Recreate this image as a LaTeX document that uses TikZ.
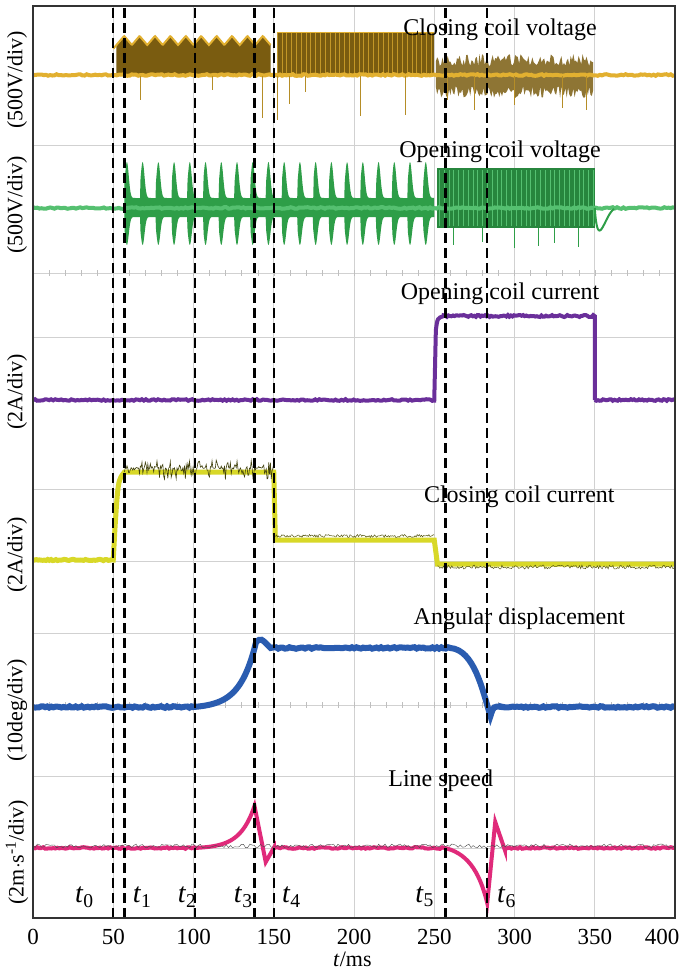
\documentclass[tikz,border=0pt]{standalone}
\usepackage{fontspec}
\setmainfont{Liberation Serif}
\begin{document}
\begin{tikzpicture}[x=1pt,y=-1pt,
  lbl/.style={font=\fontsize{24}{26}\selectfont,inner sep=0pt},
  ylbl/.style={font=\fontsize{22}{24}\selectfont,inner sep=0pt,rotate=90},
  tk/.style={font=\fontsize{23}{25}\selectfont,inner sep=0pt},
  tv/.style={font=\fontsize{28}{30}\selectfont,inner sep=0pt},
  gridln/.style={draw=black!18,line width=0.8pt},
  tline/.style={draw=black,line width=2.2pt,dash pattern=on 10pt off 5pt}]
\pgfmathsetseed{7}
\useasboundingbox (0,0) rectangle (685,971);
\fill[white] (0,0) rectangle (685,971);
\begin{scope}[shift={(33pt,0pt)},x=1.605pt]
% grid
\foreach \yy in {145,273,337,489,561,633,705,776,848} \draw[gridln] (0,\yy) -- (400,\yy);
\foreach \xx in {50,100,...,350} \draw[gridln] (\xx,6) -- (\xx,918);
\foreach \xx in {10,20,...,390} {\draw[black!25] (\xx,270) -- (\xx,276); \draw[black!25] (\xx,702) -- (\xx,708);}
% ---- closing coil voltage
\definecolor{gold}{HTML}{E2B030}\definecolor{dgold}{HTML}{7A5C10}
\fill[dgold] plot[domain=52:148,samples=200] (\x,{36+9*abs(mod(\x-52,9.6)/4.8-1)}) -- (148,76) -- (52,76) -- cycle;
\draw[gold,line width=2pt] plot[domain=50:148,samples=200] (\x,{36+9*abs(mod(\x-52,9.6)/4.8-1)});
\fill[dgold] (152,33) rectangle (250,76);
\foreach \xx in {152,155,...,249} \draw[gold!70!dgold,line width=0.4pt] (\xx,32) -- (\xx,76);
\draw[gold,line width=1pt] (152,33) -- (250,33);
\fill[dgold!85] plot[domain=251:349,samples=120] (\x,{60+6*rand}) -- plot[domain=349:251,samples=120] (\x,{92+6*rand}) -- cycle;
\draw[gold,line width=4pt] plot[domain=0:400,samples=300] (\x,{75+0.8*rand});
\foreach \xx/\yy in {67/100,112/90,143/118,152/120,160/104,170/92,204/116,232/115,258/100,275/110,300/105,330/108,345/110} \draw[gold!80!black,line width=0.8pt] (\xx,76) -- (\xx,\yy);
% ---- opening coil voltage
\definecolor{grn}{HTML}{2E9E48}\definecolor{lgrn}{HTML}{55C070}
\fill[grn] plot[domain=57:250,samples=600] (\x,{204-36*exp(-0.06*(mod(\x-57,9.8)-1.5)^2*6)-6}) -- plot[domain=250:57,samples=600] (\x,{212+28*exp(-0.06*(mod(\x-57,9.8)-1.5)^2*6)+5}) -- cycle;
\fill[grn!85!black] (252,168) rectangle (350,228);
\foreach \xx in {253,256,...,349} \draw[lgrn,line width=0.4pt] (\xx,170) -- (\xx,226);
\foreach \xx/\yy in {262/245,280/242,300/248,315/246,325/243,340/247} \draw[grn,line width=0.8pt] (\xx,228) -- (\xx,\yy);
\draw[lgrn,line width=4pt] plot[domain=0:400,samples=300] (\x,{208+0.8*rand});
\draw[grn,line width=2pt] (350,208) .. controls (352,255) and (356,215) .. (362,209);
% ---- opening coil current
\definecolor{pur}{HTML}{6A2F9A}
\draw[pur,line width=4pt] plot[domain=0:250,samples=200] (\x,{400+0.8*rand}) -- (251,330) .. controls (252,318) .. (256,316) -- plot[domain=256:350,samples=100] (\x,{316+1*rand}) -- (350,400) -- plot[domain=350:400,samples=50] (\x,{400+0.8*rand});
% ---- closing coil current
\definecolor{yel}{HTML}{D8D828}
\draw[yel,line width=5pt] plot[domain=0:50,samples=50] (\x,{560+0.6*rand}) -- (51,530) .. controls (53,480) .. (57,472) -- (150,472) -- (151,540) -- (250,540) -- (252,564) -- (400,564);
\draw[black!70!yel,line width=0.6pt] plot[domain=57:150,samples=180] (\x,{468-8*abs(rand)^3+12*abs(rand)^4});
\draw[black!60!yel,line width=0.5pt] plot[domain=151:250,samples=150] (\x,{536+1.5*rand});
\draw[black!60!yel,line width=0.5pt] plot[domain=252:400,samples=200] (\x,{567+2*rand});
% ---- angular displacement
\definecolor{blu}{HTML}{2A5CB0}
\draw[blu,line width=6pt] plot[domain=0:100,samples=80] (\x,{707+0.8*rand}) -- plot[domain=100:139,samples=40] (\x,{707-65*(exp((\x-100)/10)-1)/(exp(3.9)-1)}) .. controls (142,638) .. (148,648) -- plot[domain=150:260,samples=80] (\x,{648+0.8*rand}) .. controls (275,650) and (280,690) .. (285,716) .. controls (287,706) .. (292,707) -- plot[domain=292:400,samples=80] (\x,{707+0.8*rand});
% ---- line speed
\definecolor{mag}{HTML}{E02A7A}
\draw[mag,line width=4pt] plot[domain=0:100,samples=80] (\x,{848+0.8*rand}) -- plot[domain=100:138,samples=40] (\x,{848-42*(exp((\x-100)/9)-1)/(exp(38/9)-1)}) -- (145,862) -- (150,848) -- plot[domain=150:255,samples=80] (\x,{848+0.8*rand}) .. controls (270,852) and (278,870) .. (283,903) -- (288,822) -- (294,850) -- plot[domain=294:400,samples=80] (\x,{848+0.8*rand});
\draw[black!70,line width=0.4pt] plot[domain=0:400,samples=300] (\x,{846+2*rand});
% markers
\foreach \tm in {50,57,101,138,150,257,283} \draw[tline] (\tm,8) -- (\tm,918);
% axes frame
\draw[black!80,line width=1.5pt] (0,6) rectangle (400,918);
% labels
\node[lbl] (l1) at (291,30) {Closing coil voltage};
\node[lbl] (l2) at (291,152) {Opening coil voltage};
\node[lbl] (l3) at (291,294) {Opening coil current};
\node[lbl] (l4) at (303,497) {Closing coil current};
\node[lbl] (l5) at (303,619) {Angular displacement};
\node[lbl] (l6) at (254,781) {Line speed};
\node[tv] (t0) at (32,897) {\textit{t}\textsubscript{0}};
\node[tv] (t1) at (68,897) {\textit{t}\textsubscript{1}};
\node[tv] (t2) at (96,897) {\textit{t}\textsubscript{2}};
\node[tv] (t3) at (131,897) {\textit{t}\textsubscript{3}};
\node[tv] (t4) at (161,897) {\textit{t}\textsubscript{4}};
\node[tv] (t5) at (244,897) {\textit{t}\textsubscript{5}};
\node[tv] (t6) at (295,897) {\textit{t}\textsubscript{6}};
\foreach \xx in {0,50,...,350} \node[tk] (x\xx) at (\xx,937) {\xx};
\node[tk] (x400) at (392,937) {400};
\node[tk,font=\fontsize{22}{24}\selectfont] (xl) at (199,959) {\textit{t}/ms};
\end{scope}
\node[ylbl] (y1) at (17,80) {(500V/div)};
\node[ylbl] (y2) at (17,205) {(500V/div)};
\node[ylbl] (y3) at (17,392) {(2A/div)};
\node[ylbl] (y4) at (17,555) {(2A/div)};
\node[ylbl] (y5) at (17,710) {(10deg/div)};
\node[ylbl] (y6) at (17,852) {(2m$\cdot$s\textsuperscript{-1}/div)};
\end{tikzpicture}
\end{document}
